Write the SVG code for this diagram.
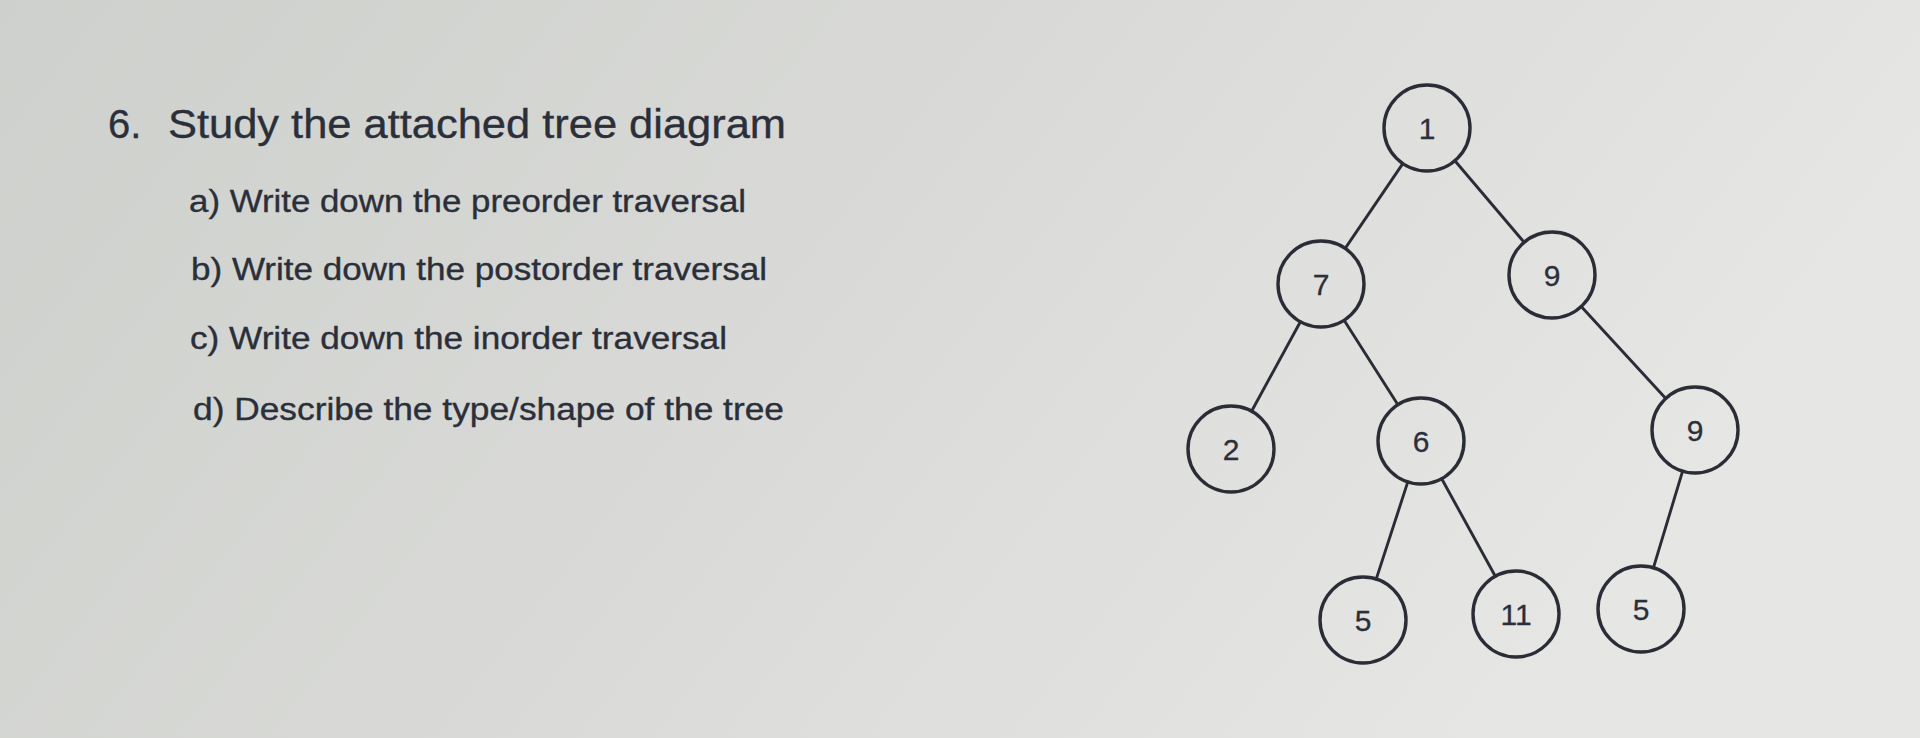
<svg xmlns="http://www.w3.org/2000/svg" width="1920" height="738" viewBox="0 0 1920 738">
  <defs>
    <linearGradient id="bg" x1="0" y1="0" x2="1" y2="0.3">
      <stop offset="0" stop-color="#cdd0cc"/>
      <stop offset="0.45" stop-color="#d8d9d6"/>
      <stop offset="1" stop-color="#e6e6e4"/>
    </linearGradient>
    <style>
      .q { font-family: "Liberation Sans", Arial, Helvetica, sans-serif; fill: #2b2f3a; stroke: #2b2f3a; stroke-width: 0.35; }
      .title { font-size: 40px; }
      .item { font-size: 31px; }
      .node circle { fill: none; stroke: #2a2d35; stroke-width: 3.4; }
      .node text { font-family: "Liberation Sans", Arial, Helvetica, sans-serif; font-size: 30px; fill: #2b2f3a; stroke: #2b2f3a; stroke-width: 0.3; text-anchor: middle; }
      .edges line { stroke: #2a2d35; stroke-width: 2.9; stroke-linecap: round; }
    </style>
  </defs>
  <rect x="0" y="0" width="1920" height="738" fill="url(#bg)"/>

  <g id="question">
    <text class="q title" x="108" y="138">6.</text>
    <text class="q title" x="168" y="138" textLength="618" lengthAdjust="spacingAndGlyphs">Study the attached tree diagram</text>
    <text class="q item" x="189" y="212" textLength="557" lengthAdjust="spacingAndGlyphs">a) Write down the preorder traversal</text>
    <text class="q item" x="191" y="280" textLength="576" lengthAdjust="spacingAndGlyphs">b) Write down the postorder traversal</text>
    <text class="q item" x="190" y="349" textLength="537" lengthAdjust="spacingAndGlyphs">c) Write down the inorder traversal</text>
    <text class="q item" x="193" y="420" textLength="591" lengthAdjust="spacingAndGlyphs">d) Describe the type/shape of the tree</text>
  </g>

  <g id="connectors" class="edges">
    <line x1="1402.8" y1="163.6" x2="1345.2" y2="248.4"/>
    <line x1="1454.9" y1="160.8" x2="1524.1" y2="242.2"/>
    <line x1="1300.4" y1="321.8" x2="1251.6" y2="411.2"/>
    <line x1="1344.1" y1="320.3" x2="1397.9" y2="404.7"/>
    <line x1="1581.2" y1="306.6" x2="1665.8" y2="398.4"/>
    <line x1="1407.8" y1="481.9" x2="1376.2" y2="579.1"/>
    <line x1="1441.7" y1="478.7" x2="1495.3" y2="576.3"/>
    <line x1="1682.6" y1="471.2" x2="1653.4" y2="567.8"/>
  </g>

  <g id="node-1" class="node"><circle cx="1427" cy="128" r="43"/><text x="1427" y="139">1</text></g>
  <g id="node-7" class="node"><circle cx="1321" cy="284" r="43"/><text x="1321" y="295">7</text></g>
  <g id="node-9a" class="node"><circle cx="1552" cy="275" r="43"/><text x="1552" y="286">9</text></g>
  <g id="node-2" class="node"><circle cx="1231" cy="449" r="43"/><text x="1231" y="460">2</text></g>
  <g id="node-6" class="node"><circle cx="1421" cy="441" r="43"/><text x="1421" y="452">6</text></g>
  <g id="node-9b" class="node"><circle cx="1695" cy="430" r="43"/><text x="1695" y="441">9</text></g>
  <g id="node-5a" class="node"><circle cx="1363" cy="620" r="43"/><text x="1363" y="631">5</text></g>
  <g id="node-11" class="node"><circle cx="1516" cy="614" r="43"/><text x="1516" y="625">11</text></g>
  <g id="node-5b" class="node"><circle cx="1641" cy="609" r="43"/><text x="1641" y="620">5</text></g>
</svg>
